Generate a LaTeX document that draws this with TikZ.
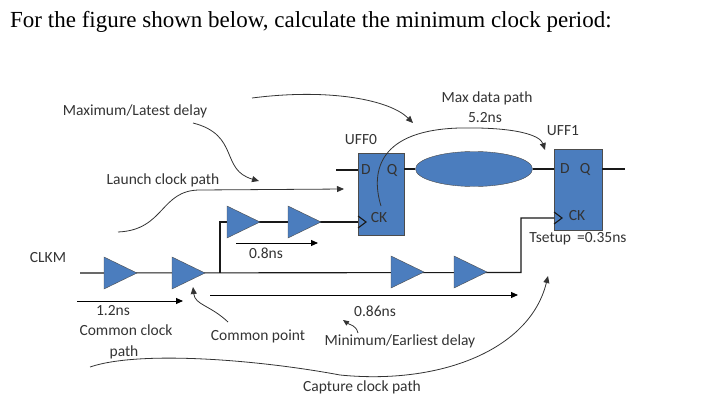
\documentclass[tikz,border=0pt]{standalone}
\usepackage{fontspec}
\setmainfont{Carlito}
\newfontfamily\titlefont{Liberation Serif}
\usetikzlibrary{arrows.meta,shapes.geometric}
\definecolor{bfill}{RGB}{75,125,190}
\begin{document}
\begin{tikzpicture}[x=1pt,y=-1pt,
  lbl/.style={font=\fontsize{15.5}{17}\selectfont, text=black!80, inner sep=0},
  buf/.style={draw=black!70, fill=bfill},
  ff/.style={draw=black!70, fill=bfill},
  wire/.style={draw=black!90, line width=1.1pt},
  arr/.style={draw=black, line width=0.9pt, -{Triangle[length=7pt,width=6pt]}},
  crv/.style={draw=black!80, line width=0.8pt}]
\useasboundingbox (0,0) rectangle (722,417);
\node[anchor=west, inner sep=0, font=\titlefont\fontsize{23}{25}\selectfont] (title) at (10,22) {For the figure shown below, calculate the minimum clock period:};
% flip-flops
\node[ff, minimum width=46, minimum height=82, anchor=north west, inner sep=0] (ff0) at (358,153) {};
\node[ff, minimum width=48, minimum height=81, anchor=north west, inner sep=0] (ff1) at (554,149) {};
\node[lbl] (u0) at (361,140) {UFF0};
\node[lbl] (u1) at (563,131) {UFF1};
\node[lbl] (d0) at (366,170) {D};
\node[lbl] (q0) at (392,170) {Q};
\node[lbl] (ck0) at (379,218) {CK};
\node[lbl] (d1) at (565,169) {D};
\node[lbl] (q1) at (585,169) {Q};
\node[lbl] (ck1) at (577,216) {CK};
\draw[wire] (358,216) -- (366,222) -- (358,228);
\draw[wire] (554,212) -- (562,218) -- (554,224);
% cloud
\node[draw=black!70, fill=bfill, ellipse, minimum width=117, minimum height=35, inner sep=0] (cl) at (474,169) {};
\coordinate (din) at (336,170);
\coordinate (q1out) at (625,169);
\draw[wire] (din) -- (ff0.west |- din);
\draw[wire] (ff0.east |- cl) -- (cl.west);
\draw[wire] (cl.east) -- (ff1.west |- cl);
\draw[wire] (ff1.east |- q1out) -- (q1out);
% buffers
\newcommand\mybuf[3]{\draw[buf] (#2,#3-16) -- (#2+33,#3) -- (#2,#3+16) -- cycle; \coordinate (#1i) at (#2,#3); \coordinate (#1o) at (#2+33,#3);}
\coordinate (clkin) at (80,273);
\coordinate (j) at (220,272.5);
\coordinate (t) at (521,272.5);
\draw[wire] (clkin) -- (t) -- (521,218) -- (554,218);
\draw[wire] (j) |- (227,222) -- (358,222);
\mybuf{a}{104}{273}
\mybuf{b}{172}{273}
\mybuf{c}{227}{222}
\mybuf{d}{288}{222}
\mybuf{e}{391}{272}
\mybuf{f}{454}{272}
% labels
\node[lbl] (clkm) at (48,258) {CLKM};
\node[lbl] (maxl) at (135,111) {Maximum/Latest delay};
\node[lbl] (lcp) at (163,180) {Launch clock path};
\node[lbl] (mdp) at (487,98) {Max data path};
\node[lbl] (t52) at (485,118) {5.2ns};
\node[lbl] (ts) at (578,239) {Tsetup \,=0.35ns};
\node[lbl] (n08) at (266,253) {0.8ns};
\node[lbl] (n12) at (113,311) {1.2ns};
\node[lbl] (ccp) at (126,330) {Common clock};
\node[lbl] (ccp2) at (124,352) {path};
\node[lbl] (cp) at (258,336) {Common point};
\node[lbl] (n086) at (375,311) {0.86ns};
\node[lbl] (med) at (400,341) {Minimum/Earliest delay};
\node[lbl] (cap) at (362,387) {Capture clock path};
% arrows
\draw[arr] (236,243) -- (318,243);
\draw[arr] (77,301) -- (183,301);
\draw[arr] (210,295) -- (518,295);
\draw[crv,-{Triangle[length=7pt,width=6pt]}] (252,98) .. controls (330,88) and (390,100) .. (413,123);
\draw[crv,-{Triangle[length=7pt,width=6pt]}] (193,123) .. controls (240,135) and (220,170) .. (259,181);
\draw[crv,-{Triangle[length=7pt,width=6pt]}] (118,232) .. controls (165,230) and (160,190) .. (200,190) -- (344,189);
\draw[crv,-{Triangle[length=7pt,width=6pt]}] (381,206) .. controls (370,170) and (380,130) .. (460,128) .. controls (515,127) and (540,135) .. (545,150);
\draw[crv,-{Triangle[length=7pt,width=6pt]}] (228,322) .. controls (210,305) and (195,305) .. (193,287);
\draw[crv,-{Triangle[length=6pt,width=5pt]}] (358,333) .. controls (356,325) and (350,325) .. (343,320);
\draw[crv,-{Triangle[length=7pt,width=6pt]}] (90,367) .. controls (140,350) and (260,360) .. (340,375) .. controls (440,385) and (530,350) .. (548,276);
\end{tikzpicture}
\end{document}
